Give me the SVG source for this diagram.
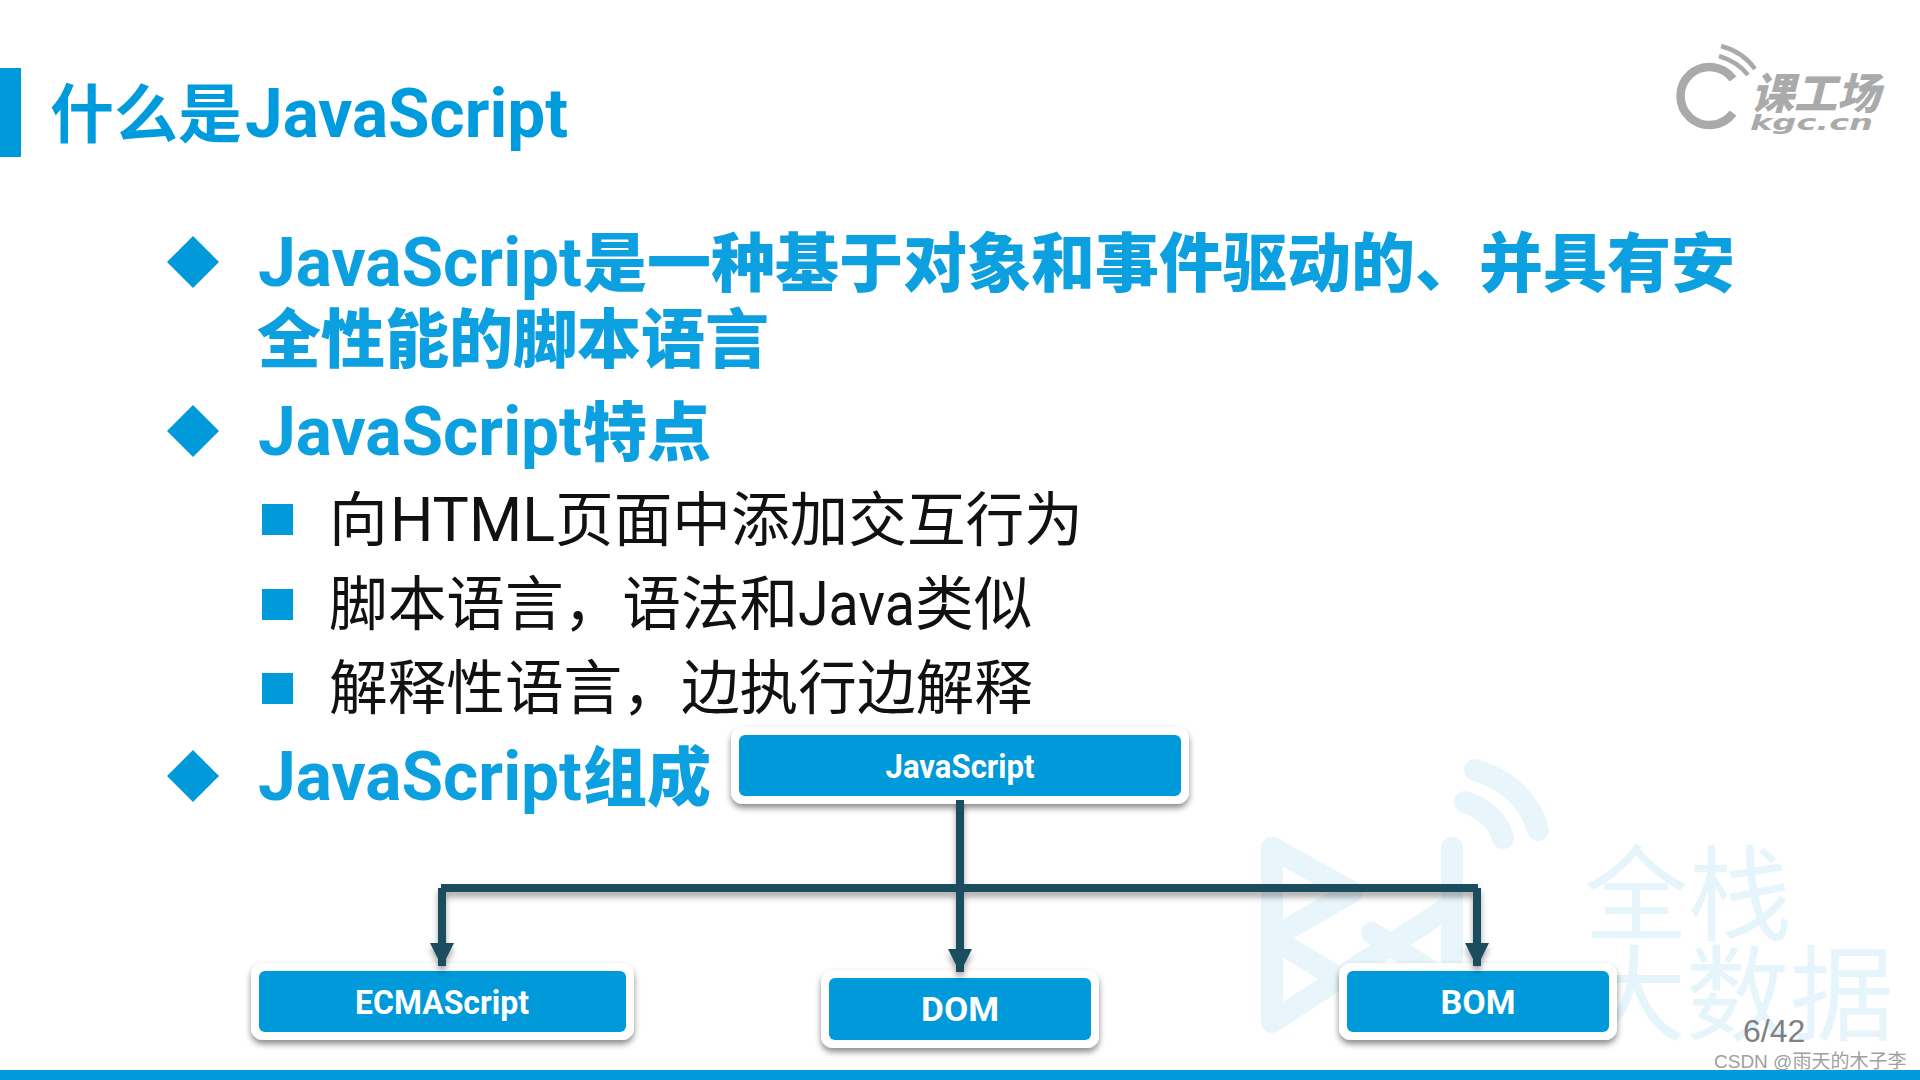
<svg xmlns="http://www.w3.org/2000/svg" width="1920" height="1080" viewBox="0 0 1920 1080">
<defs>
<style>
.h{font-family:"Noto Sans CJK SC",sans-serif;font-weight:900;font-size:64px;fill:#0ca0e0}
.t{fill:#009bdd;font-weight:700}
.la{font-family:"Roboto",sans-serif;font-weight:700;font-size:68px}
.b{font-family:"Noto Sans CJK SC",sans-serif;font-size:58.67px;fill:#111}
.lb{font-family:"Roboto",sans-serif;font-size:62px}
.n{font-family:"Roboto","Noto Sans CJK SC",sans-serif;font-weight:700;font-size:34px;fill:#fff;text-anchor:middle}
.o{fill:#fff;filter:url(#s)}
.i{fill:#0099d9}
.c{fill:none;stroke:#1d4e5f;stroke-width:8}
.w{fill:none;stroke:#e8f6fc;stroke-width:22;stroke-linecap:round;stroke-linejoin:round}
.l{fill:none;stroke:#aaa}
.wt{font-family:"Noto Sans CJK SC",sans-serif;font-size:104px;font-weight:400;fill:#e6f5fc}
</style>
<filter id="s" x="-10%" y="-20%" width="120%" height="150%"><feDropShadow dx="0" dy="4" stdDeviation="3" flood-color="#000" flood-opacity=".45"/></filter>
<filter id="ls" filterUnits="userSpaceOnUse" x="400" y="780" width="1120" height="220"><feDropShadow dx="0" dy="5" stdDeviation="3" flood-color="#000" flood-opacity=".35"/></filter>
<marker id="a" markerUnits="userSpaceOnUse" markerWidth="24" markerHeight="24" refX="23" refY="12" orient="auto" viewBox="0 0 24 24"><path d="M0 0L24 12L0 24Z" fill="#1d4e5f"/></marker>
<path id="d" d="M0-26L26 0L0 26L-26 0Z" fill="#0099d9"/>
</defs>
<rect width="1920" height="1080" fill="#fff"/>
<g id="watermark">
<path class="w" d="M1272 848V1022L1452 905"/>
<path class="w" d="M1272 848L1352 892L1272 938L1350 985"/>
<path class="w" d="M1452 848V985L1372 933"/>
<path class="w" d="M1465 802Q1495 812 1503 838"/>
<path class="w" d="M1475 770Q1525 785 1538 830"/>
<text class="wt" x="1584" y="933">全栈</text>
<text class="wt" x="1582" y="1033">大数据</text>
</g>
<g id="logo">
<path class="l" stroke-width="8.5" d="M1733 79A29 29 0 1 0 1733 113"/>
<path class="l" stroke-width="4.5" d="M1719 56Q1738 62 1748 75M1721 46Q1743 52 1755 69"/>
<text x="1751" y="109" font-family="Noto Sans CJK SC,sans-serif" font-weight="900" font-style="italic" font-size="43" fill="#aaa">课工场</text>
<text x="1750" y="130" font-family="DejaVu Sans,sans-serif" font-weight="700" font-style="italic" font-size="22" fill="#aaa" textLength="123" lengthAdjust="spacingAndGlyphs">kgc.cn</text>
</g>
<g id="title">
<rect y="68" width="21" height="89" fill="#0099d9"/>
<text class="h t" x="50" y="137">什么是<tspan class="la" x="245" textLength="323" lengthAdjust="spacingAndGlyphs">JavaScript</tspan></text>
</g>
<g id="bullets">
<use href="#d" x="193" y="262"/>
<text class="h" x="258" y="286"><tspan class="la" textLength="324" lengthAdjust="spacingAndGlyphs">JavaScript</tspan><tspan x="583">是一种基于对象和事件驱动的、并具有安</tspan></text>
<text class="h" x="257" y="362">全性能的脚本语言</text>
<use href="#d" x="193" y="431"/>
<text class="h" x="258" y="455"><tspan class="la" textLength="324" lengthAdjust="spacingAndGlyphs">JavaScript</tspan><tspan x="583">特点</tspan></text>
<rect class="i" x="262" y="504" width="31" height="31"/>
<text class="b" x="329" y="541">向<tspan class="lb" x="390" textLength="165" lengthAdjust="spacingAndGlyphs">HTML</tspan><tspan x="555">页面中添加交互行为</tspan></text>
<rect class="i" x="262" y="589" width="31" height="31"/>
<text class="b" x="329" y="625">脚本语言，语法和<tspan class="lb" x="798" textLength="117" lengthAdjust="spacingAndGlyphs">Java</tspan><tspan x="915">类似</tspan></text>
<rect class="i" x="262" y="673" width="31" height="31"/>
<text class="b" x="329" y="709">解释性语言，边执行边解释</text>
<use href="#d" x="193" y="776"/>
<text class="h" x="258" y="800"><tspan class="la" textLength="324" lengthAdjust="spacingAndGlyphs">JavaScript</tspan><tspan x="583">组成</tspan></text>
</g>
<g id="node-javascript"><rect class="o" x="731" y="727" width="458" height="77" rx="12"/><rect class="i" x="739" y="735" width="442" height="61" rx="6"/><text class="n" x="960" y="778" textLength="149" lengthAdjust="spacingAndGlyphs">JavaScript</text></g>
<g id="node-ecmascript"><rect class="o" x="251" y="963" width="383" height="77" rx="12"/><rect class="i" x="259" y="971" width="367" height="61" rx="6"/><text class="n" x="442" y="1014" textLength="174" lengthAdjust="spacingAndGlyphs">ECMAScript</text></g>
<g id="node-dom"><rect class="o" x="821" y="970" width="278" height="78" rx="12"/><rect class="i" x="829" y="978" width="262" height="62" rx="6"/><text class="n" x="960" y="1021" textLength="78" lengthAdjust="spacingAndGlyphs">DOM</text></g>
<g id="node-bom"><rect class="o" x="1339" y="963" width="278" height="77" rx="12"/><rect class="i" x="1347" y="971" width="262" height="61" rx="6"/><text class="n" x="1478" y="1014" textLength="75" lengthAdjust="spacingAndGlyphs">BOM</text></g>
<g id="connectors" filter="url(#ls)">
<path class="c" d="M960 800V972" marker-end="url(#a)"/>
<path class="c" d="M441 888H1478"/>
<path class="c" d="M442 888V966" marker-end="url(#a)"/>
<path class="c" d="M1477 888V966" marker-end="url(#a)"/>
</g>
<rect id="footer" y="1070" width="1920" height="10" fill="#0099d9"/>
<text x="1743" y="1042" font-family="Liberation Sans,sans-serif" font-size="32" fill="#7f7f7f">6/42</text>
<text x="1714" y="1068" font-family="Liberation Sans,Noto Sans CJK SC,sans-serif" font-size="19" fill="#a0a0a0">CSDN @雨天的木子李</text>
</svg>
